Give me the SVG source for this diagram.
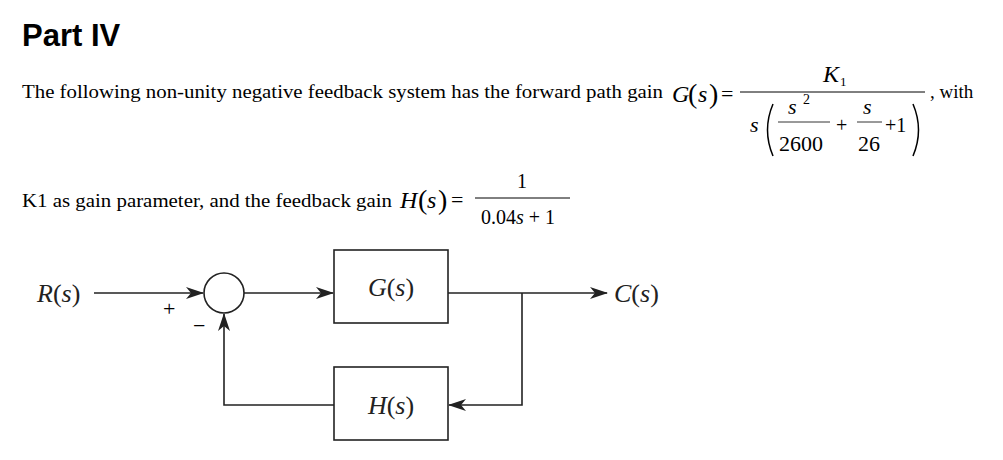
<svg xmlns="http://www.w3.org/2000/svg" width="1003" height="460" viewBox="0 0 1003 460">
<style>
.t{font-family:"Liberation Serif",serif;font-size:19px;fill:#000}
.m{font-family:"Liberation Serif",serif;font-style:italic;fill:#000}
.n{font-family:"Liberation Serif",serif;fill:#000}
.di{font-family:"Liberation Serif",serif;font-size:26px;fill:#222;font-style:italic}
.l{stroke:#222;stroke-width:1.6;fill:none}
.b{stroke:#222;stroke-width:1.6;fill:#fff}
</style>
<defs><marker id="a" markerWidth="18" markerHeight="12" refX="17" refY="6" orient="auto" markerUnits="userSpaceOnUse"><path d="M0,0 L18,6 L0,12 L5,6Z" fill="#222"/></marker></defs>
<rect width="1003" height="460" fill="#fff"/>
<text x="22" y="46" font-family="Liberation Sans,sans-serif" font-weight="bold" font-size="31">Part IV</text>
<text x="22" y="98" class="t" textLength="641" lengthAdjust="spacingAndGlyphs">The following non-unity negative feedback system has the forward path gain</text>
<text x="672" y="102" class="m" font-size="24">G</text>
<text x="688" y="103" class="n" font-size="28">(</text>
<text x="698" y="102" class="m" font-size="24">s</text>
<text x="709" y="103" class="n" font-size="28">)</text>
<text x="721" y="101" class="n" font-size="22">=</text>
<line x1="740" y1="92" x2="925" y2="92" stroke="#000" stroke-width="1"/>
<text x="823" y="82" class="m" font-size="24">K</text><text x="840" y="86" class="n" font-size="13">1</text>
<text x="750" y="132" class="m" font-size="22">s</text>
<text x="788" y="114" class="m" font-size="22">s</text><text x="803" y="104" class="n" font-size="14">2</text>
<line x1="778" y1="122" x2="830" y2="122" stroke="#000" stroke-width="0.8"/>
<text x="779" y="151" class="n" font-size="22">2600</text>
<text x="836" y="132" class="n" font-size="20">+</text>
<text x="863" y="114" class="m" font-size="22">s</text>
<line x1="857" y1="122" x2="882" y2="122" stroke="#000" stroke-width="0.8"/>
<text x="858" y="151" class="n" font-size="22">26</text>
<text x="885" y="132" class="n" font-size="20">+1</text>
<path d="M773,104 Q762,130 773,156" stroke="#000" stroke-width="1.5" fill="none"/>
<path d="M913,104 Q924,130 913,156" stroke="#000" stroke-width="1.5" fill="none"/>
<text x="930" y="98" class="t">, with</text>
<text x="22" y="207" class="t" textLength="370" lengthAdjust="spacingAndGlyphs">K1 as gain parameter, and the feedback gain</text>
<text x="400" y="208" class="m" font-size="24">H</text>
<text x="418" y="209" class="n" font-size="28">(</text>
<text x="427" y="208" class="m" font-size="24">s</text>
<text x="438" y="209" class="n" font-size="28">)</text>
<text x="451" y="207" class="n" font-size="22">=</text>
<line x1="475" y1="198" x2="570" y2="198" stroke="#000" stroke-width="1"/>
<text x="517" y="188" class="n" font-size="20">1</text>
<text x="481" y="224" class="n" font-size="20">0.04<tspan font-style="italic">s</tspan> + 1</text>
<g id="connectors">
<line class="l" x1="94" y1="293" x2="203" y2="293" marker-end="url(#a)"/>
<line class="l" x1="244" y1="293" x2="333" y2="293" marker-end="url(#a)"/>
<line class="l" x1="448" y1="293" x2="607" y2="293" marker-end="url(#a)"/>
<polyline class="l" points="522,293 522,405 449,405" marker-end="url(#a)"/>
<polyline class="l" points="334,405 224,405 224,314" marker-end="url(#a)"/>
</g>
<g id="R"><text x="37" y="302" class="di">R<tspan font-style="normal">(</tspan>s<tspan font-style="normal">)</tspan></text></g>
<g id="sum"><circle class="b" cx="224" cy="293" r="20"/>
<text x="163" y="316" class="n" font-size="22">+</text>
<text x="193" y="333" class="n" font-size="22">−</text></g>
<g id="G"><rect class="b" x="334" y="250" width="114" height="73"/><text x="391" y="296" text-anchor="middle" class="di">G<tspan font-style="normal">(</tspan>s<tspan font-style="normal">)</tspan></text></g>
<g id="H"><rect class="b" x="334" y="367" width="114" height="73"/><text x="391" y="414" text-anchor="middle" class="di">H<tspan font-style="normal">(</tspan>s<tspan font-style="normal">)</tspan></text></g>
<g id="C"><text x="614" y="302" class="di">C<tspan font-style="normal">(</tspan>s<tspan font-style="normal">)</tspan></text></g>
</svg>
